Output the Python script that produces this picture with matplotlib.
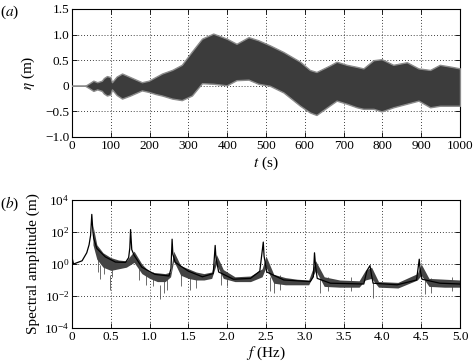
import numpy as np
import matplotlib
matplotlib.use("Agg")
import matplotlib.pyplot as plt

# (a) envelope of the surface elevation record
t_env = [0, 34, 45, 55, 65, 77, 82, 90, 99, 103, 115, 129, 150, 165, 180, 198, 215, 232,
         258, 283, 309, 335, 364, 399, 424, 455, 480, 510, 545, 588, 613, 630, 665, 682,
         708, 734, 751, 777, 798, 828, 863, 893, 923, 948, 979, 1000]
eta_top = [0, 0, 0.05, 0.1, 0.07, 0.1, 0.15, 0.19, 0.17, 0.07, 0.18, 0.24, 0.17, 0.12, 0.07,
           0.1, 0.17, 0.24, 0.31, 0.41, 0.67, 0.92, 1.02, 0.92, 0.82, 0.95, 0.89, 0.79, 0.66,
           0.47, 0.31, 0.27, 0.40, 0.47, 0.41, 0.37, 0.34, 0.50, 0.52, 0.41, 0.46, 0.34,
           0.31, 0.41, 0.37, 0.34]
eta_bot = [0, 0, -0.05, -0.1, -0.07, -0.1, -0.15, -0.19, -0.17, -0.07, -0.18, -0.25, -0.19,
           -0.14, -0.09, -0.12, -0.16, -0.19, -0.25, -0.28, -0.19, 0.05, 0.04, 0.01, 0.11,
           0.12, 0.04, 0.0, -0.13, -0.39, -0.52, -0.57, -0.38, -0.29, -0.35, -0.42, -0.45,
           -0.45, -0.5, -0.42, -0.35, -0.29, -0.42, -0.39, -0.39, -0.39]

# (b) spectrum: main curve (log10 of amplitude)
f_spec = [0.0, 0.005, 0.02, 0.13, 0.19, 0.22, 0.24, 0.255, 0.27, 0.28, 0.32, 0.43, 0.56,
          0.69, 0.73, 0.745, 0.755, 0.77, 0.8, 0.9, 1.07, 1.25, 1.275, 1.29, 1.30, 1.33,
          1.5, 1.68, 1.82, 1.845, 1.855, 1.89, 2.08, 2.3, 2.42, 2.465, 2.475, 2.51, 2.73,
          3.07, 3.11, 3.125, 3.14, 3.16, 3.33, 3.76, 3.8, 3.84, 3.86, 3.88, 4.19, 4.44,
          4.475, 4.485, 4.51, 4.74, 5.0]
log_amp = [2.4, 0.3, 0.0, 0.2, 0.7, 1.2, 1.8, 3.1, 2.0, 1.6, 0.97, 0.44, 0.12, 0.1, 0.4,
           1.0, 2.15, 0.9, 0.55, -0.2, -0.65, -0.75, -0.3, 1.55, 0.6, 0.1, -0.45, -0.8,
           -0.6, 1.16, 0.4, -0.5, -0.95, -0.9, -0.45, 1.37, 0.5, -0.5, -1.0, -1.1, -0.8,
           0.7, -0.2, -0.9, -1.2, -1.25, -0.42, -0.1, -0.7, -1.2, -1.3, -1.0, 0.3, -0.3,
           -0.95, -1.2, -1.25]

# (b) hairy spread of the noisy spectrum around the main curve
f_band = [0.27, 0.32, 0.4, 0.5, 0.6, 0.7, 0.8, 0.9, 1.0, 1.1, 1.2, 1.27, 1.31, 1.4, 1.5,
          1.6, 1.7, 1.8, 1.86, 1.95, 2.1, 2.3, 2.45, 2.5, 2.6, 2.75, 2.9, 3.05, 3.14, 3.25,
          3.45, 3.7, 3.78, 3.86, 3.95, 4.2, 4.45, 4.5, 4.6, 4.8, 5.0]
band_lo = [1.2, 0.3, -0.2, -0.4, -0.3, -0.2, 0.1, -0.6, -0.9, -1.1, -1.1, -0.8, 0.2, -0.7,
           -0.9, -1.0, -1.0, -0.9, 0.0, -0.9, -1.1, -1.1, -0.8, -0.2, -1.2, -1.3, -1.3,
           -1.3, -0.4, -1.4, -1.45, -1.45, -1.0, -0.9, -1.45, -1.5, -1.0, -0.7, -1.4,
           -1.45, -1.45]
band_hi = [2.4, 1.2, 0.7, 0.4, 0.25, 0.2, 0.8, 0.0, -0.5, -0.55, -0.6, -0.5, 0.8, -0.1,
           -0.3, -0.5, -0.6, -0.5, 0.6, -0.35, -0.8, -0.75, -0.3, 0.5, -0.65, -0.85, -0.95,
           -1.0, 0.2, -0.8, -1.0, -1.05, -0.4, -0.2, -1.1, -1.15, -0.6, 0.0, -0.9, -0.95,
           -1.0]

# (b) deepest downward spikes of the noise
f_spike = [0.33, 0.36, 0.41, 0.49, 0.52, 0.86, 0.95, 1.05, 1.14, 1.18, 1.22, 1.4, 1.52,
           1.6, 1.92, 2.0, 2.55, 2.6, 2.68, 3.2, 3.3, 3.6, 3.88, 4.55, 4.62, 4.9]
spike_lo = [-0.5, -0.95, -0.6, -1.6, -0.8, -1.0, -1.3, -1.4, -2.2, -1.8, -1.6, -1.4, -1.6,
            -1.5, -1.3, -1.4, -1.7, -1.8, -1.6, -1.8, -1.7, -1.7, -2.1, -1.9, -1.8, -1.7]

plt.rcParams["font.family"] = ["Liberation Serif", "DejaVu Serif"]
plt.rcParams["mathtext.fontset"] = "stix"
plt.rcParams["font.size"] = 9
plt.rcParams["axes.unicode_minus"] = True

fig = plt.figure(figsize=(4.74, 3.64), dpi=100)
W, H = 474.0, 364.0
ax1 = fig.add_axes([72 / W, 1 - 137 / H, 388 / W, 128 / H])
ax2 = fig.add_axes([72 / W, 1 - 328 / H, 388 / W, 128 / H])

for ax in (ax1, ax2):
    ax.tick_params(direction="in", top=True, right=True, length=3.5, width=0.6, pad=2,
                   labelsize=9.5)
    ax.grid(True, linestyle=(0, (1, 2.5)), color="black", linewidth=0.6)
    for s in ax.spines.values():
        s.set_linewidth(0.8)

# panel (a)
ax1.fill_between(t_env, eta_bot, eta_top, color="#3c3c3c", edgecolor="#8c8c8c",
                 linewidth=1.0, zorder=3)
ax1.set_xlim(0, 1000)
ax1.set_ylim(-1.0, 1.5)
ax1.set_xticks(np.arange(0, 1001, 100))
ax1.set_yticks([-1.0, -0.5, 0, 0.5, 1.0, 1.5])
ax1.set_yticklabels(["\u22121.0", "\u22120.5", "0", "0.5", "1.0", "1.5"])
ax1.set_xlabel(r"$t$ (s)", fontsize=11, labelpad=2)
ax1.set_ylabel(r"$\eta$ (m)", fontsize=11, labelpad=6)

# panel (b)
ax2.vlines(f_spike, 10 ** np.array(spike_lo), 10 ** (np.array(spike_lo) + 0.9),
           color="#555555", linewidth=0.6, zorder=2)
ax2.fill_between(f_band, 10 ** np.array(band_lo), 10 ** np.array(band_hi),
                 color="#444444", linewidth=0, zorder=2)
ax2.semilogy(f_spec, 10 ** np.array(log_amp), color="black", linewidth=0.9, zorder=3)
ax2.set_xlim(0, 5)
ax2.set_ylim(1e-4, 1e4)
ax2.set_yticks([1e-4, 1e-2, 1e0, 1e2, 1e4])
ax2.minorticks_off()
ax2.set_xticks(np.arange(0, 5.01, 0.5))
ax2.set_xticklabels(["0", "0.5", "1.0", "1.5", "2.0", "2.5", "3.0", "3.5", "4.0", "4.5",
                     "5.0"])
ax2.set_xlabel(r"$f$ (Hz)", fontsize=11, labelpad=1)
ax2.set_ylabel("Spectral amplitude (m)", fontsize=11, labelpad=3)

fig.text(0 / W, 1 - 16 / H, r"($a$)", fontsize=11)
fig.text(0 / W, 1 - 208 / H, r"($b$)", fontsize=11)

fig.savefig("out.png", dpi=100)
